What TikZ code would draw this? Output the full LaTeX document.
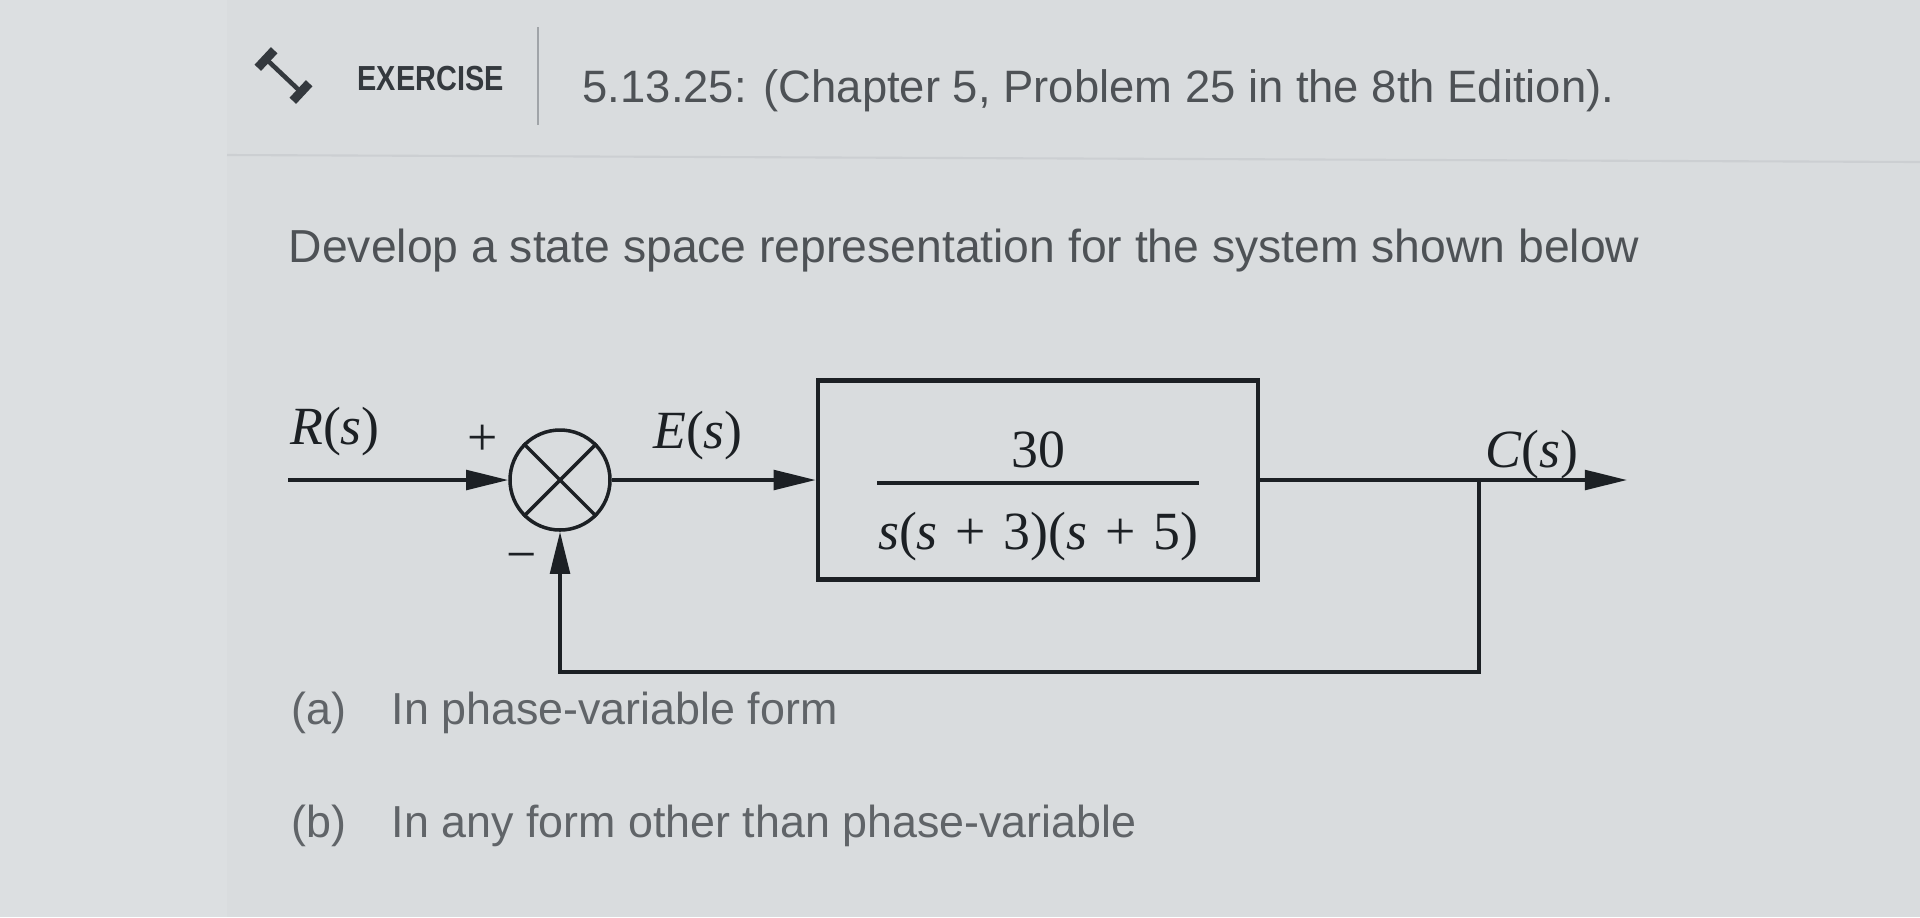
\documentclass[tikz,border=0pt]{standalone}
\usepackage{fontspec}
\setmainfont{Liberation Sans}
\newfontfamily\tnr{Liberation Serif}
\newfontfamily\exfont[FakeStretch=0.83]{Liberation Sans}
\usetikzlibrary{arrows.meta}

\definecolor{cardbg}{RGB}{217,220,222}
\definecolor{sidebg}{RGB}{220,223,225}
\definecolor{rulegray}{RGB}{204,207,210}
\definecolor{sepgray}{RGB}{160,164,168}
\definecolor{uitext}{RGB}{78,82,86}
\definecolor{itemtext}{RGB}{96,100,104}
\definecolor{icongray}{RGB}{52,57,62}
\definecolor{ink}{RGB}{28,32,36}

\newcommand{\splus}{\hspace{0.33em}+\hspace{0.33em}}

\begin{document}
\begin{tikzpicture}[
  signal/.style={draw=ink,line width=1pt},
  tip/.style={-{Triangle[length=12pt,width=5.6pt]}},
  sumnode/.style={circle,draw=ink,line width=1pt,minimum size=1cm,inner sep=0pt},
  plant/.style={rectangle,draw=ink,line width=1.3pt,minimum width=4.4cm,minimum height=1.99cm},
  mathlabel/.style={inner sep=0pt,text=ink,font=\tnr\fontsize{15.3}{18}\selectfont},
  plate/.style={rectangle,fill=icongray,minimum width=0.09cm,minimum height=0.24cm,inner sep=0pt},
  uibody/.style={anchor=base west,inner sep=0pt,text=uitext,font=\fontsize{13.17}{16}\selectfont},
  uititle/.style={anchor=base west,inner sep=0pt,text=uitext,font=\fontsize{12.92}{16}\selectfont},
  uiitem/.style={anchor=base west,inner sep=0pt,text=itemtext,font=\fontsize{12.75}{16}\selectfont}
]
\useasboundingbox (0,0) rectangle (19.2,-9.17);
\fill[cardbg] (0,0) rectangle (19.2,-9.17);
\fill[sidebg] (0,0) rectangle (2.27,-9.17);
\draw[rulegray,line width=0.6pt] (2.27,-1.55) -- (19.2,-1.62);

\draw[icongray,line width=1.3pt] (2.65,-0.58) -- (3.02,-0.93);
\node[plate,rotate=-43] (plateA) at (2.66,-0.59) {};
\node[plate,rotate=-43] (plateB) at (3.01,-0.92) {};
\node[anchor=base west,inner sep=0pt,text=icongray,font=\exfont\bfseries\fontsize{9.9}{12}\selectfont] (exlabel) at (3.57,-0.90) {EXERCISE};
\draw[sepgray,line width=0.7pt] (5.38,-0.27) -- (5.38,-1.25);
\node[uititle] (title) at (5.82,-1.02) {5.13.25: (Chapter 5, Problem 25 in the 8th Edition).};

\node[uibody] (task) at (2.88,-2.62) {Develop a state space representation for the system shown below};

\node[sumnode] (sum) at (5.6,-4.8) {};
\draw[signal] (sum.north west) -- (sum.south east);
\draw[signal] (sum.north east) -- (sum.south west);
\node[plant] (gain) at (10.38,-4.8) {};
\coordinate (input) at (2.88,-4.8);
\coordinate (branch) at (14.79,-4.8);
\coordinate (output) at (16.27,-4.8);
\coordinate (fbcorner) at (5.6,-6.72);
\coordinate (barlevel) at (0,-4.83);

\node[mathlabel] (num) at (10.38,-4.50) {30};
\node[mathlabel] (den) at (10.38,-5.37) {\textit{s}(\textit{s}\splus3)(\textit{s}\splus5)};
\draw[ink,line width=1pt] (den.west |- barlevel) -- (den.east |- barlevel);

\draw[signal,tip] (input) -- (sum.west);
\draw[signal,tip] (sum.east) -- (gain.west);
\draw[signal,tip] (gain.east) -- (output);
\draw[signal,tip] (branch) |- (fbcorner) -- (sum.south);

\node[mathlabel] (rlabel) at (3.35,-4.32) {\textit{R}(\textit{s})};
\node[mathlabel] (elabel) at (6.98,-4.36) {\textit{E}(\textit{s})};
\node[mathlabel] (clabel) at (15.32,-4.55) {\textit{C}(\textit{s})};
\node[mathlabel] (plus) at (4.83,-4.40) {+};
\node[mathlabel] (minus) at (5.22,-5.63) {−};

\node[uiitem] (itema) at (2.91,-7.24) {(a)};
\node[uiitem] (texta) at (3.91,-7.24) {In phase-variable form};
\node[uiitem] (itemb) at (2.91,-8.37) {(b)};
\node[uiitem] (textb) at (3.91,-8.37) {In any form other than phase-variable};
\end{tikzpicture}
\end{document}
